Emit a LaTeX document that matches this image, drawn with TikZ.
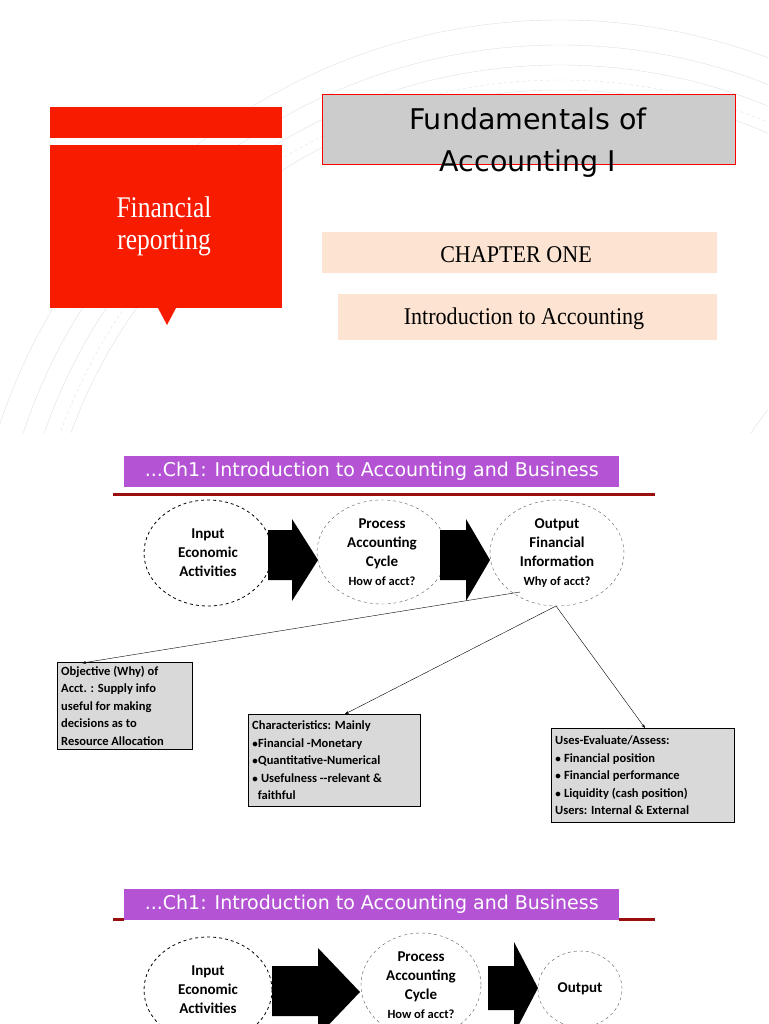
\documentclass[tikz,border=0pt]{standalone}
\usepackage{fontspec}
\setmainfont{Liberation Serif}
\newfontfamily\calfont{Carlito}
\newfontfamily\djfont{DejaVu Sans}
\usetikzlibrary{shapes.geometric,arrows.meta}
\definecolor{redbox}{HTML}{F71C00}
\definecolor{peach}{HTML}{FDE3D1}
\definecolor{purp}{HTML}{B453D4}
\definecolor{darkred}{HTML}{9A0E0E}
\begin{document}
\begin{tikzpicture}[x=1pt,y=-1pt,
  ell/.style={draw,ellipse,dashed,align=center,inner sep=1pt,font=\calfont\bfseries\fontsize{15}{19}\selectfont},
  gbox/.style={draw,fill=gray!30,align=flush left,anchor=north west,inner sep=4pt,font=\calfont\bfseries\fontsize{12.5}{17.5}\selectfont},
  banner/.style={fill=purp,text=white,font=\djfont\fontsize{19}{20}\selectfont,minimum width=495pt,minimum height=31pt,anchor=north west,inner sep=0pt},
  conn/.style={draw,thin}]
\useasboundingbox (0,0) rectangle (768,1024);
% slide 1 background arcs
\begin{scope}
\clip (0,0) rectangle (768,432);
\foreach \r in {520,545,565,590}{\draw[gray!25,thin] (560,610) circle (\r);}
\draw[gray!25,thin,dashed] (560,610) circle (530);
\draw[gray!25,thin] (1150,700) circle (460);
\draw[gray!25,thin] (1150,700) circle (480);
\end{scope}
\node[fill=redbox,minimum width=232pt,minimum height=31pt,anchor=north west,inner sep=0] (bar) at (50,107) {};
\node[fill=redbox,minimum width=232pt,minimum height=163pt,anchor=north west,inner sep=0] (fin) at (50,145) {};
\node[text=white,align=center,font=\fontsize{30}{32}\selectfont,xscale=0.85] (fint) at (164,226) {Financial\\reporting};
\fill[redbox] (158,308) -- (176,308) -- (167,325) -- cycle;
\node[draw=red,fill=gray!40,minimum width=413pt,minimum height=70pt,anchor=north west,inner sep=0] (tb) at (322,94) {};
\node[font=\djfont\fontsize{28.5}{42}\selectfont,align=center] (tt) at (528,143) {Fundamentals of\\Accounting I};
\node[fill=peach,minimum width=395pt,minimum height=41pt,anchor=north west,inner sep=0] (ch) at (322,232) {};
\node[font=\fontsize{24}{26}\selectfont,xscale=0.92] (cht) at (516,255) {CHAPTER ONE};
\node[fill=peach,minimum width=379pt,minimum height=46pt,anchor=north west,inner sep=0] (intro) at (338,294) {};
\node[font=\fontsize{24}{26}\selectfont,xscale=0.92] (introt) at (524,319) {Introduction to Accounting};
% slide 2
\node[banner] (b2) at (124,456) {...Ch1: Introduction to Accounting and Business};
\draw[darkred,line width=3pt] (113,494) -- (655,494);
\node[ell,thick,minimum width=128pt,minimum height=106pt] (in) at (208,553) {Input\\Economic\\Activities};
\node[ell,gray!70!black,minimum width=130pt,minimum height=104pt,text=black] (pr) at (382,552) {Process\\Accounting\\Cycle\\{\fontsize{12.5}{14}\selectfont How of acct?}};
\node[ell,gray!70!black,minimum width=134pt,minimum height=106pt,text=black] (out) at (557,553) {Output\\Financial\\Information\\{\fontsize{12.5}{14}\selectfont Why of acct?}};
\fill (268,530) -- (292,530) -- (292,519) -- (318,560) -- (292,601) -- (292,580) -- (268,580) -- cycle;
\fill (440,530) -- (466,530) -- (466,519) -- (490,560) -- (466,601) -- (466,580) -- (440,580) -- cycle;
\node[gbox,text width=127pt] (o1) at (57,662) {Objective (Why) of\\Acct. : Supply info\\useful for making\\decisions as to\\Resource Allocation};
\node[gbox,text width=164pt,minimum height=92pt] (o2) at (248,714) {Characteristics: Mainly\\$\bullet$Financial -Monetary\\$\bullet$Quantitative-Numerical\\$\bullet$ Usefulness --relevant \&\\\ \ faithful};
\node[gbox,text width=175pt,minimum height=94pt] (o3) at (551,728) {Uses-Evaluate/Assess:\\$\bullet$ Financial position\\$\bullet$ Financial performance\\$\bullet$ Liquidity (cash position)\\Users: Internal \& External};
\coordinate (p1) at (520,592);
\coordinate (p2) at (556,606);
\coordinate (e1) at (82,663);
\coordinate (e2) at (345,714);
\coordinate (e3) at (645,728);
\draw[conn,-{Stealth[length=4pt]}] (p1) -- (e1);
\draw[conn,-{Stealth[length=4pt]}] (p2) -- (e2);
\draw[conn,-{Stealth[length=4pt]}] (p2) -- (e3);
% slide 3
\node[banner] (b3) at (124,889) {...Ch1: Introduction to Accounting and Business};
\draw[darkred,line width=3pt] (113,919) -- (124,919) (619,919) -- (655,919);
\node[ell,thick,minimum width=128pt,minimum height=106pt] (in3) at (208,990) {Input\\Economic\\Activities};
\node[ell,gray!70!black,minimum width=120pt,minimum height=104pt,text=black] (pr3) at (421,985) {Process\\Accounting\\Cycle\\{\fontsize{12.5}{14}\selectfont How of acct?}};
\node[ell,gray!70!black,minimum width=84pt,minimum height=76pt,text=black] (out3) at (580,989) {Output};
\fill (272,966) -- (318,966) -- (318,948) -- (360,992) -- (318,1036) -- (318,1016) -- (272,1016) -- cycle;
\fill (488,966) -- (514,966) -- (514,942) -- (538,988) -- (514,1034) -- (514,1010) -- (488,1010) -- cycle;
\end{tikzpicture}
\end{document}
